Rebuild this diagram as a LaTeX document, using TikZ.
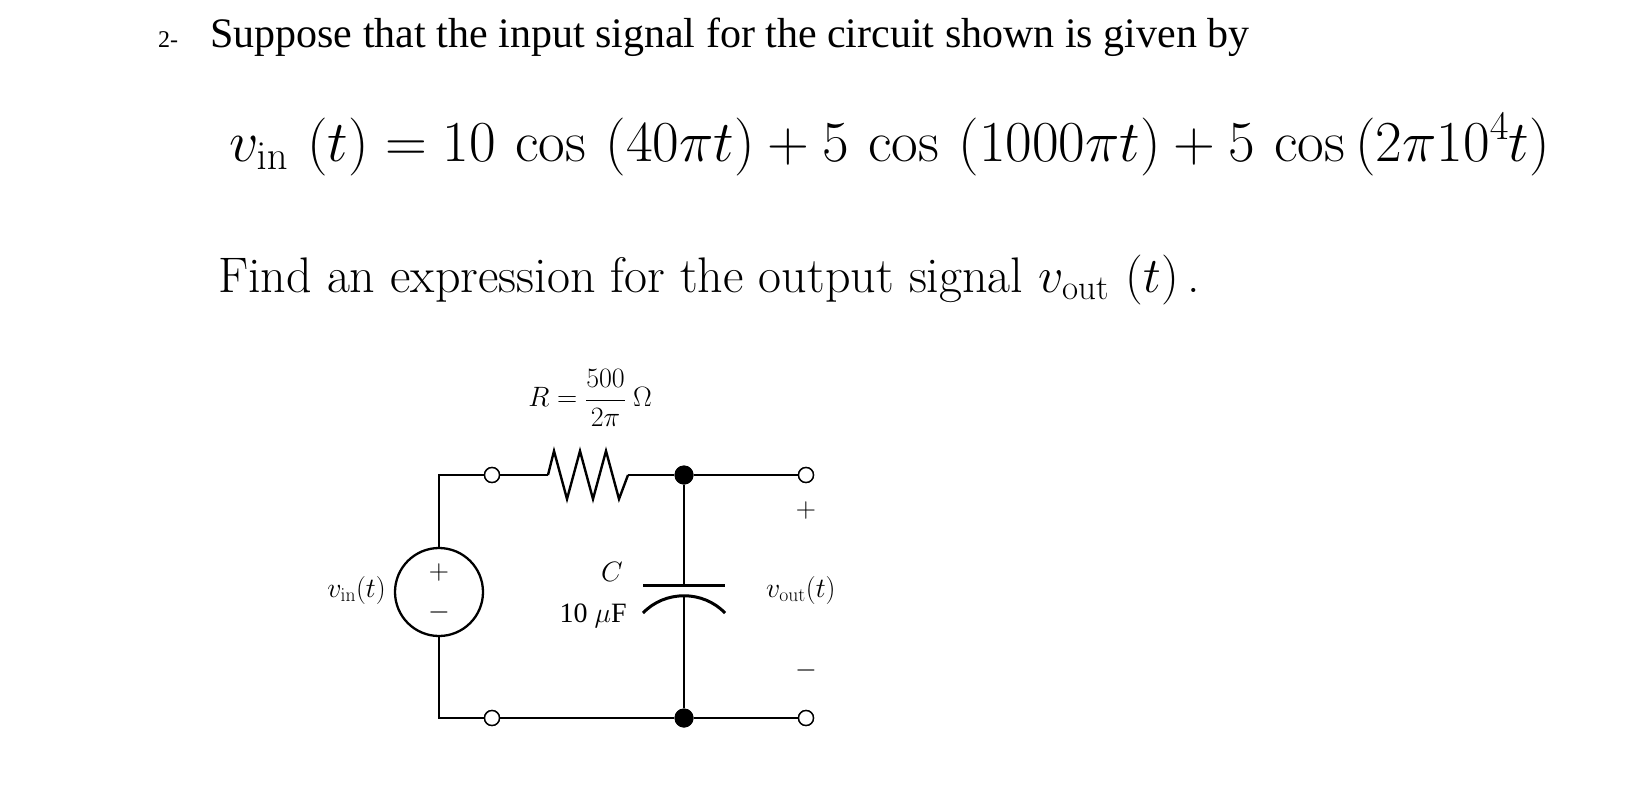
\documentclass[tikz,border=0pt]{standalone}
\usepackage{fix-cm}
\usepackage[no-math]{fontspec}
\setmainfont{Liberation Serif}
\newfontfamily\lmr{Latin Modern Roman}
\begin{document}
\begin{tikzpicture}[x=1pt,y=-1pt,
  wire/.style={line width=1.7pt},
  oterm/.style={circle,draw,line width=1.4pt,fill=white,minimum size=15pt,inner sep=0pt},
  dot/.style={circle,fill=black,minimum size=19pt,inner sep=0pt},
  lab/.style={font=\fontsize{28}{32}\selectfont,inner sep=0pt}]
\useasboundingbox (0,0) rectangle (1650,804);
% texts
\node[anchor=base west,inner sep=0pt,font=\fontsize{24}{28}\selectfont] (num) at (158,47) {2-};
\node[anchor=base west,inner sep=0pt,font=\fontsize{42}{48}\selectfont] (l1) at (210,47) {Suppose that the input signal for the circuit shown is given by};
\node[anchor=base west,inner sep=0pt,font=\fontsize{58}{64}\selectfont] (eq) at (229,161) {$v_{\mathrm{in}}\,\left(t\right)=10\,\cos\,\left(40\pi t\right)+5\,\cos\,\left(1000\pi t\right)+5\,\cos\,\bigl(2\pi 10^4t\bigr)$};
\node[anchor=base west,inner sep=0pt,font=\lmr\fontsize{50}{56}\selectfont] (l2) at (218,292) {Find an expression for the output signal $v_{\mathrm{out}}\,\left(t\right)$\,.};
% circuit
\coordinate (tl) at (439,475);
\coordinate (bl) at (439,718);
\node[circle,draw,line width=2.3pt,minimum size=88pt,inner sep=0pt] (src) at (439,592) {};
\node[lab] at (439,572) {$+$};
\node[lab] at (439,612) {$-$};
\node[oterm] (t1) at (492,475) {};
\node[oterm] (t2) at (492,718) {};
\node[dot] (d1) at (684,475) {};
\node[dot] (d2) at (684,718) {};
\node[oterm] (o1) at (806,475) {};
\node[oterm] (o2) at (806,718) {};
\coordinate (ra) at (548,475);
\coordinate (rb) at (628,475);
\coordinate (cp1) at (684,585);
\coordinate (cp2) at (684,597);
\draw[wire] (src.north) |- (tl) -- (t1.west);
\draw[wire] (src.south) |- (bl) -- (t2.west);
\draw[wire] (t1.east) -- (ra);
\draw[wire,line width=2.4pt,line join=miter] (ra) -- ++(6,-24) -- ++(13,48) -- ++(13,-48) -- ++(13,48) -- ++(13,-48) -- ++(13,48) -- (rb);
\draw[wire] (rb) -- (d1) -- (o1.west);
\draw[wire] (t2.east) -- (d2) -- (o2.west);
\draw[wire] (d1) -- (cp1);
\draw[wire] (cp2) -- (d2);
\draw[line width=3pt] (643,585) -- (725,585);
\draw[line width=3pt] (643,613) .. controls (665,590) and (703,590) .. (725,613);
\node[dot] at (684,475) {};\node[dot] at (684,718) {};
\node[oterm] at (492,475) {};\node[oterm] at (492,718) {};
\node[oterm] at (806,475) {};\node[oterm] at (806,718) {};
% labels
\node[lab,anchor=east] (vin) at (386,590) {$v_{\mathrm{in}}(t)$};
\node[lab,anchor=west] (vout) at (766,590) {$v_{\mathrm{out}}(t)$};
\node[lab] (pl) at (806,510) {$+$};
\node[lab] (mi) at (806,670) {$-$};
\node[lab] (cl) at (612,572) {$C$};
\node[lab,anchor=east] (cv) at (627,616) {10 $\mu$F};
\node[lab] (rl) at (590,398) {$R=\displaystyle\frac{500}{2\pi}\ \Omega$};
\end{tikzpicture}
\end{document}
